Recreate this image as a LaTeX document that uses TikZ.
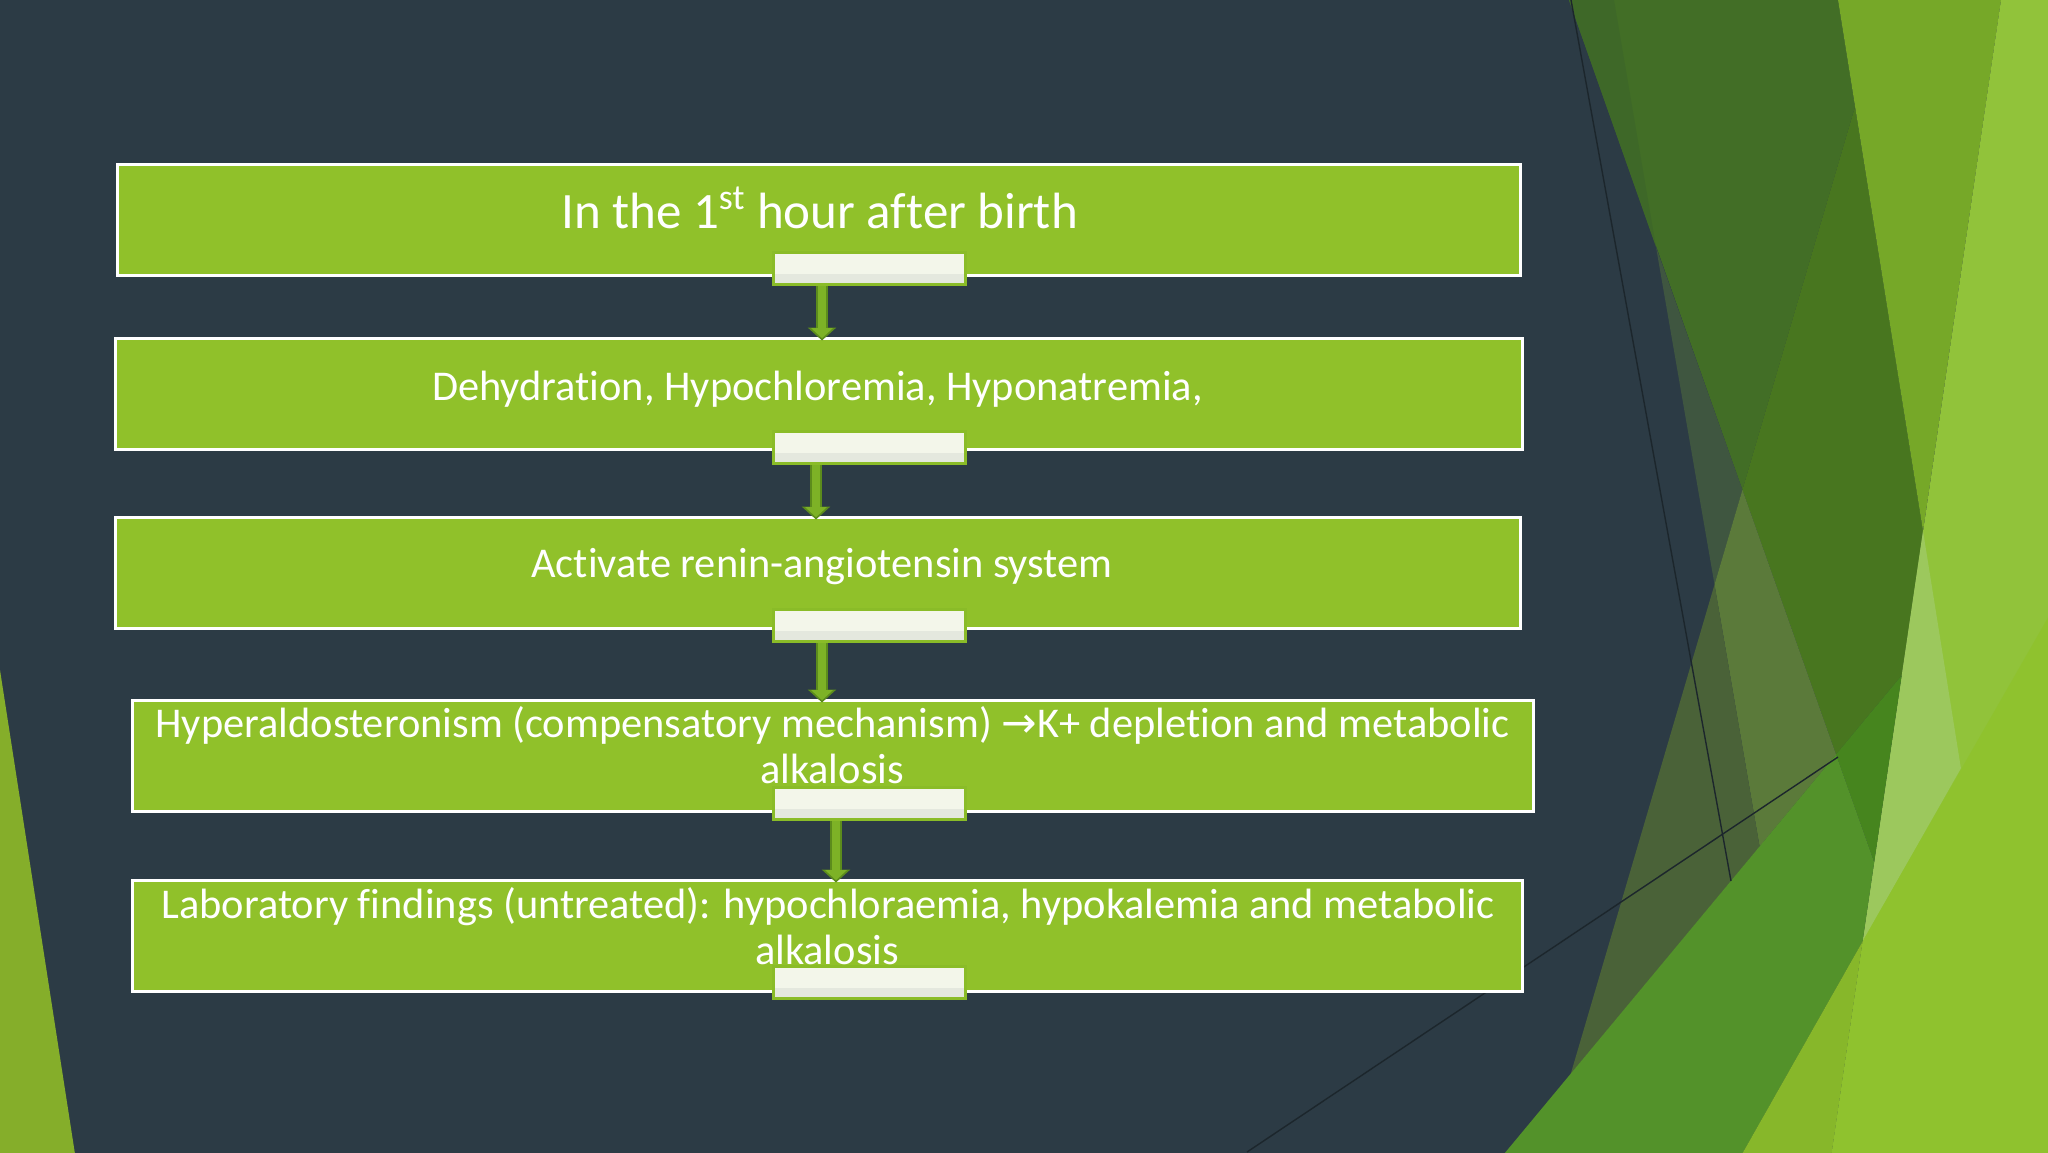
\documentclass[tikz,border=0pt]{standalone}
\usepackage{fontspec}
\setmainfont{Carlito}[Ligatures={NoCommon,NoRare,NoContextual}]
\newfontfamily\symfont{DejaVu Sans}
\usetikzlibrary{arrows.meta}
\definecolor{bg}{RGB}{44,59,69}
\definecolor{boxgreen}{RGB}{144,193,42}
\definecolor{tabedge}{RGB}{138,188,40}
\definecolor{tabfill}{RGB}{243,246,234}
\definecolor{tabband}{RGB}{228,232,222}
\definecolor{arrfill}{RGB}{125,178,38}
\definecolor{arrdark}{RGB}{92,140,28}
\definecolor{dkgreen}{RGB}{66,110,38}
\definecolor{dkstrip}{RGB}{62,104,40}
\definecolor{medgreen}{RGB}{72,118,31}
\definecolor{greyish}{RGB}{63,86,64}
\definecolor{olivegrey}{RGB}{74,98,56}
\definecolor{olive}{RGB}{91,122,58}
\definecolor{midgreen}{RGB}{118,168,40}
\definecolor{rgreen}{RGB}{145,195,58}
\definecolor{pale}{RGB}{156,200,93}
\definecolor{cgreen}{RGB}{83,146,42}
\definecolor{cdark}{RGB}{70,133,30}
\definecolor{bgreen}{RGB}{143,194,46}
\definecolor{bleft}{RGB}{135,183,42}
\definecolor{lgreen}{RGB}{133,174,42}
\definecolor{thinline}{RGB}{28,38,44}
\begin{document}
\begin{tikzpicture}[x=0.5pt,y=-0.5pt,
  box/.style={draw=white, line width=1.5pt, fill=boxgreen, rectangle, inner sep=0pt, minimum height=55.5pt},
  tabbox/.style={draw=tabedge, line width=1.5pt, fill=tabfill, rectangle, inner sep=0pt,
     minimum width=96pt, minimum height=16pt,
     path picture={\fill[tabband] (path picture bounding box.south west) rectangle ([yshift=5.5pt]path picture bounding box.south east);}},
  txt/.style={text=white, inner sep=0pt, anchor=base, font=\fontsize{21.2pt}{25pt}\selectfont},
  blockarrow/.style={arrfill, line width=3.6pt, -{Triangle[width=10.5pt,length=5pt]}, shorten >=-0.6pt,
     preaction={draw=arrdark, line width=6pt, -{Triangle[width=14pt,length=6.5pt]}, shorten >=-1.75pt}},
  thin/.style={draw=thinline, line width=0.7pt}]
\useasboundingbox (0,0) rectangle (2048,1152);
\fill[bg] (-2,-2) rectangle (2050,1154);
% left decoration
\fill[lgreen] (0,670) -- (75,1154) -- (-2,1154) -- cycle;
% right decorations
\fill[dkgreen] (1569,0) -- (1838,0) -- (1855,106.6) -- (1742.4,489.8) -- cycle;
\fill[dkstrip] (1569,0) -- (1614,0) -- (1656,247) -- cycle;
\fill[greyish] (1656,247) -- (1742.4,489.8) -- (1714.5,584.5) -- cycle;
\fill[medgreen] (1855,106.6) -- (1923,531) -- (1901.7,675.3) -- (1836,754.4) -- (1742.4,489.8) -- cycle;
\fill[olive] (1742.4,489.8) -- (1714.5,584.5) -- (1759.6,846.5) -- (1836,754.4) -- cycle;
\fill[olivegrey] (1714.5,584.5) -- (1570.6,1074.3) -- (1759.6,846.5) -- cycle;
\fill[midgreen] (1838,0) -- (2001,0) -- (1923,531) -- cycle;
\fill[rgreen] (2001,0) -- (2050,0) -- (2050,1154) -- (1831.7,1154) -- cycle;
\fill[pale] (1923,531) -- (1960.9,768.3) -- (1862.6,941.3) -- cycle;
\fill[cdark] (1836,754.4) -- (1901.7,675.3) -- (1874.2,862.3) -- cycle;
\fill[cgreen] (1504,1154) -- (1836,754.4) -- (1874.2,862.3) -- (1862.6,941.3) -- (1742,1154) -- cycle;
\fill[bleft] (1742,1154) -- (1862.6,941.3) -- (1831.5,1154) -- cycle;
\fill[bgreen] (1862.6,941.3) -- (2050,614) -- (2050,1154) -- (1831.5,1154) -- cycle;
% thin lines
\coordinate (la) at (1571,0);
\coordinate (lb) at (1731,881);
\coordinate (lc) at (1838,757);
\coordinate (ld) at (1247,1152);
\draw[thin] (la) -- (lb);
\draw[thin] (lc) -- (ld);
% boxes
\node[box, minimum width=701.5pt] (b1) at (819,220) {};
\node[box, minimum width=703.5pt] (b2) at (819,394) {};
\node[box, minimum width=702.5pt] (b3) at (818,573) {};
\node[box, minimum width=700.5pt] (b4) at (833,756) {};
\node[box, minimum width=695pt] (b5) at (827.5,936) {};
% texts
\node[txt, font=\fontsize{25.5pt}{30pt}\selectfont] (t1) at (819.5,228) {In the 1\textsuperscript{st} hour after birth};
\node[txt] (t2) at (817.5,400) {Dehydration, Hypochloremia, Hyponatremia,};
\node[txt] (t3) at (822,577) {Activate renin-angiotensin system};
\node[txt] (t4a) at (832.5,737) {Hyperaldosteronism (compensatory mechanism) {\symfont →}K+ depletion and metabolic};
\node[txt] (t4b) at (832,783) {alkalosis};
\node[txt] (t5a) at (828,918) {Laboratory findings (untreated): hypochloraemia, hypokalemia and metabolic};
\node[txt] (t5b) at (827,964) {alkalosis};
% arrows
\coordinate (a1) at (822,286);
\coordinate (a2) at (816,465);
\coordinate (a3) at (822,643);
\coordinate (a4) at (836,821);
\draw[blockarrow] (a1) -- (a1 |- b2.north);
\draw[blockarrow] (a2) -- (a2 |- b3.north);
\draw[blockarrow] (a3) -- (a3 |- b4.north);
\draw[blockarrow] (a4) -- (a4 |- b5.north);
% tabs
\node[tabbox] (tab1) at (869.5,268.5) {};
\node[tabbox] (tab2) at (869.5,447.5) {};
\node[tabbox] (tab3) at (869.5,625.5) {};
\node[tabbox] (tab4) at (869.5,803.5) {};
\node[tabbox] (tab5) at (869.5,982.5) {};
\end{tikzpicture}
\end{document}
